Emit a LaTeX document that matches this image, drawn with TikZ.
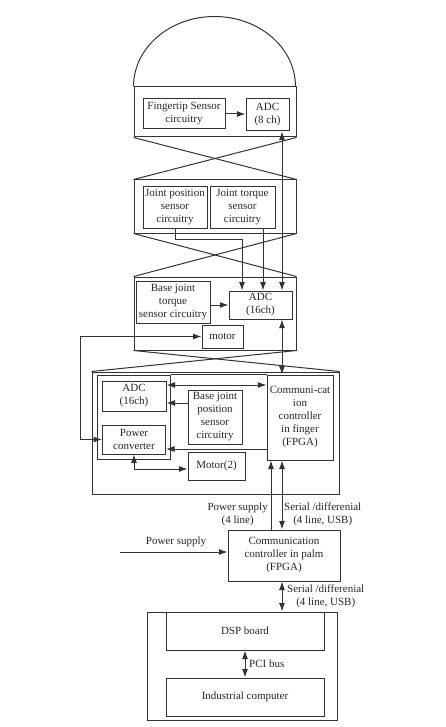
\documentclass[tikz,border=0pt]{standalone}
\usepackage{fontspec}
\setmainfont{Liberation Serif}
\usetikzlibrary{arrows.meta,positioning}

\begin{document}
\begin{tikzpicture}[x=1pt, y=-1pt, >={Latex[length=8.5pt,width=6pt]},
    blocknode/.style={rectangle, draw=black!80, line width=1pt, align=center,
      inner sep=1pt, text=black!85, font=\fontsize{11}{13}\selectfont},
    framenode/.style={rectangle, draw=black!80, line width=1pt, inner sep=0pt},
    labelnode/.style={align=center, inner sep=1pt, text=black!85,
      font=\fontsize{11}{13}\selectfont},
    conn/.style={draw=black!80, line width=1pt}]

  \useasboundingbox (0,0) rectangle (446,727);

  % Define frames
  \node[framenode, minimum width=162pt, minimum height=50pt] (tipframe) at (215,112) {};
  \node[framenode, minimum width=162pt, minimum height=53pt] (jntframe) at (215,206.5) {};
  \node[framenode, minimum width=162pt, minimum height=73pt] (baseframe) at (215,313.5) {};
  \node[framenode, minimum width=247pt, minimum height=122pt] (handframe) at (215.5,433) {};
  \node[framenode, minimum width=73pt, minimum height=84pt] (grpframe) at (133.5,417) {};
  \node[framenode, minimum width=190pt, minimum height=108pt] (pcframe) at (242,666) {};

  % Fingertip dome
  \draw[conn] (tipframe.north west) arc[start angle=180, end angle=360, x radius=81, y radius=70];

  % Fingertip -->
  \node[blocknode, minimum width=82pt, minimum height=30pt] (tipsen) at (184,114) {Fingertip Sensor\\circuitry};
  \node[blocknode, minimum width=43pt, minimum height=32pt] (adc8) at (267.5,115) {ADC\\(8 ch)};

  % Joint -->
  \node[blocknode, minimum width=64pt, minimum height=41pt] (jpos) at (175,207.5) {Joint position\\sensor\\circuitry};
  \node[blocknode, minimum width=65pt, minimum height=41pt, right=2pt of jpos] (jtor) {Joint torque\\sensor\\circuitry};

  % Base joint -->
  \node[blocknode, minimum width=74pt, minimum height=42pt] (btor) at (173,302) {Base joint\\torque\\sensor circuitry};
  \node[blocknode, minimum width=63pt, minimum height=28pt] (adcjnt) at (260.5,305) {ADC\\(16ch)};
  \node[blocknode, minimum width=41pt, minimum height=23pt] (motor) at (222.5,336.5) {motor};

  % Finger base -->
  \node[blocknode, minimum width=64pt, minimum height=30pt] (adcbase) at (134,396) {ADC\\(16ch)};
  \node[blocknode, minimum width=63pt, minimum height=29pt, below=13pt of adcbase] (pconv) {Power\\converter};
  \node[blocknode, minimum width=54pt, minimum height=54pt] (bpos) at (215,417) {Base joint\\position\\sensor\\circuitry};
  \node[blocknode, minimum width=66pt, minimum height=85pt] (comm) at (300,417.5) {Communi-cat\\ion\\controller\\in finger\\(FPGA)};
  \node[blocknode, minimum width=57pt, minimum height=28pt] (motortwo) at (216.5,466) {Motor(2)};

  % Palm -->
  \node[blocknode, minimum width=112pt, minimum height=51pt] (palm) at (284,555.5) {Communication\\controller in palm\\(FPGA)};

  % PC -->
  \node[blocknode, minimum width=158pt, minimum height=38pt] (dsp) at (245,631) {DSP board};
  \node[blocknode, minimum width=158pt, minimum height=38pt, below=27pt of dsp] (indpc) {Industrial computer};

  % Labels
  \node[labelnode, anchor=east] (lblpwr) at (269,514) {Power supply\\(4 line)};
  \node[labelnode, anchor=west] (lblserf) at (283,514) {Serial /differenial\\(4 line, USB)};
  \node[labelnode] (lblpsin) at (176,542) {Power supply};
  \node[labelnode, anchor=west] (lblserp) at (286,596) {Serial /differenial\\(4 line, USB)};
  \node[labelnode, anchor=west] (lblpci) at (248,664) {PCI bus};

  \coordinate (xbus) at (282,0);
  \coordinate (xpwr) at (271,0);
  \coordinate (xjp) at (242,0);
  \coordinate (xjt) at (263,0);
  \coordinate (xlft) at (80,0);
  \coordinate (psin) at (120,552);

  % Crossings between frames
  \draw[conn] (tipframe.south west) -- (jntframe.north east);
  \draw[conn] (tipframe.south east) -- (jntframe.north west);
  \draw[conn] (jntframe.south west) -- (baseframe.north east);
  \draw[conn] (jntframe.south east) -- (baseframe.north west);
  \draw[conn] (baseframe.south west) -- (handframe.north east);
  \draw[conn] (baseframe.south east) -- (handframe.north west);
  \draw[conn] (grpframe.north east) -- (comm.north west);

  \draw[conn, ->] (tipsen.east) -- (tipsen.east -| adc8.west);
  \draw[conn, <->] (adc8.south -| xbus) -- (adcjnt.north -| xbus);

  \draw[conn, ->] (jpos.south) -- ++(0,11) -| (adcjnt.north -| xjp);
  \draw[conn, ->] (jtor.south -| xjt) -- (adcjnt.north -| xjt);

  \draw[conn, ->] (btor.east |- adcjnt.west) -- (adcjnt.west);
  \draw[conn, <->] (adcjnt.south -| xbus) -- (comm.north -| xbus);
  \draw[conn, <->] (motor.west) -- (motor.west -| xlft) -- (pconv.west -| xlft) -- (pconv.west);

  \draw[conn, <->] ([yshift=11pt]adcbase.east) -- ([yshift=11pt]adcbase.east -| comm.west);
  \draw[conn, ->] ([yshift=-7pt]adcbase.east -| bpos.west) -- ([yshift=-7pt]adcbase.east);
  \draw[conn, ->] ([yshift=-9.5pt]pconv.east -| comm.west) -- ([yshift=-9.5pt]pconv.east);
  \draw[conn, <->] (pconv.south) |- ([yshift=-3pt]motortwo.west);

  \draw[conn, ->] (palm.north -| xpwr) -- (comm.south -| xpwr);
  \draw[conn, <->] (comm.south -| xbus) -- (palm.north -| xbus);
  \draw[conn, ->] (psin) -- (palm.west |- psin);
  \draw[conn, <->] (palm.south -| xbus) -- (dsp.north -| xbus);
  \draw[conn, <->] (dsp.south) -- (indpc.north);

\end{tikzpicture}
\end{document}
